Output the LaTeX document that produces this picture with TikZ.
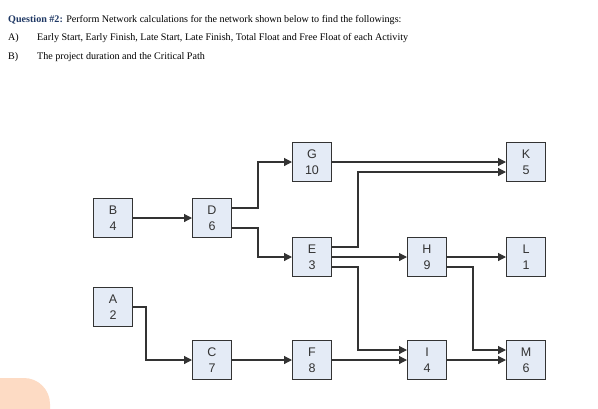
\documentclass[tikz,border=0pt]{standalone}
\usepackage{fontspec}
\setmainfont{Liberation Serif}
\newfontfamily\boxfont{Liberation Sans}
\usetikzlibrary{arrows.meta, positioning}
\definecolor{boxfill}{HTML}{E4EBF6}
\definecolor{boxline}{HTML}{333333}
\definecolor{qblue}{HTML}{1F3864}
\definecolor{blob}{HTML}{FDDBC4}

\begin{document}
\begin{tikzpicture}[
			x=1pt, y=-1pt,
			activity/.style={rectangle, draw=boxline, line width=1.3pt, fill=boxfill, minimum width=38.7pt, minimum height=38.7pt, inner sep=0pt, align=center, font=\boxfont\fontsize{12.5}{16}\selectfont, text=black!80},
			link/.style={-{Triangle[length=8pt, width=8pt]}, draw=boxline, line width=1.2pt},
			qtext/.style={anchor=west, inner sep=0pt, font=\fontsize{10.1}{12}\selectfont}
			]
			\useasboundingbox (0,0) rectangle (598,408);
			
			% question text
			\node[qtext] (qline) at (8,20) {\textcolor{qblue}{\textbf{Question \#2:}} Perform Network calculations for the network shown below to find the followings:};
			\node[qtext] (lbla) at (8,38) {A)};
			\node[qtext] (itema) at (37,38) {Early Start, Early Finish, Late Start, Late Finish, Total Float and Free Float of each Activity};
			\node[qtext] (lblb) at (8,57) {B)};
			\node[qtext] (itemb) at (37,57) {The project duration and the Critical Path};
			
			% corner blob
			\fill[blob] (-30,378) [rounded corners=26pt] -- (50,378) [sharp corners] -- (50,430) -- (-30,430) -- cycle;
			
			% activities
			\node[activity] (B) at (113,218) {B\\4};
			\node[activity] (A) at (113,307) {A\\2};
			\node[activity] (D) at (212,218) {D\\6};
			\node[activity] (C) at (212,360) {C\\7};
			\node[activity] (G) at (312,162) {G\\10};
			\node[activity] (E) at (312,257) {E\\3};
			\node[activity] (F) at (312,360) {F\\8};
			\node[activity] (H) at (427,257) {H\\9};
			\node[activity] (I) at (427,360) {I\\4};
			\node[activity] (K) at (526,162) {K\\5};
			\node[activity] (L) at (526,257) {L\\1};
			\node[activity] (M) at (526,360) {M\\6};
			
			% links
			\draw[link] (B) -- (D);
			\draw[link] ([yshift=10pt]D.east) -- ++(26,0) |- (G.west);
			\draw[link] ([yshift=-10pt]D.east) -- ++(26,0) |- (E.west);
			\draw[link] (A.east) -- ++(13,0) |- (C.west);
			\draw[link] (C) -- (F);
			\draw[link] (G) -- (K);
			\draw[link] ([yshift=10pt]E.east) -- ++(26,0) |- ([yshift=-10pt]K.west);
			\draw[link] (E) -- (H);
			\draw[link] ([yshift=-10pt]E.east) -- ++(26,0) |- ([yshift=10pt]I.west);
			\draw[link] (F) -- (I);
			\draw[link] (H) -- (L);
			\draw[link] ([yshift=-10pt]H.east) -- ++(26,0) |- ([yshift=10pt]M.west);
			\draw[link] (I) -- (M);
		\end{tikzpicture}
\end{document}
